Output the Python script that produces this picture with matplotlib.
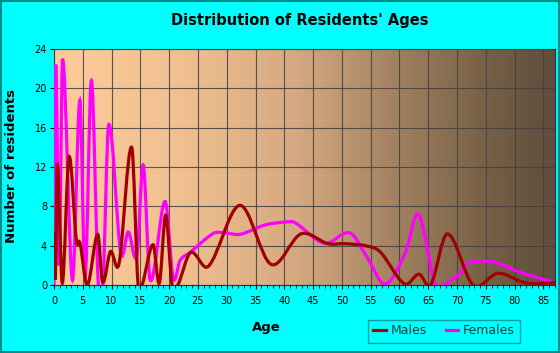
import matplotlib
matplotlib.use("Agg")
import matplotlib.pyplot as plt
from matplotlib.path import Path
from matplotlib.patches import PathPatch, Rectangle
from matplotlib.lines import Line2D
from matplotlib.colors import LinearSegmentedColormap
import numpy as np

# values (age, number of residents)
male_age = [0, 0.25, 0.57, 1.45, 2.6, 3.9, 4.5, 5.8, 7.6, 8.45, 9.8, 11.3, 13.5, 14.6, 15.3,
            17.2, 18.3, 19.4, 20.5, 21.5, 23.7, 26.8, 32.3, 37.7, 42.9, 47.6, 50.5, 54,
            56.6, 60.9, 63.4, 65.4, 68.3, 72.8, 77.1, 82, 87]
male_val = [5.4, 0.7, 12.4, 0.2, 13.0, 4.5, 4.3, 0.0, 5.15, 0.3, 3.4, 2.2, 14.0, 0.0, 0.0,
            4.1, 0.2, 7.1, 0.0, 0.0, 3.3, 1.9, 8.1, 2.1, 5.2, 4.2, 4.2, 4.0,
            3.4, 0.1, 1.1, 0.0, 5.2, 0.0, 1.2, 0.2, 0.2]

female_age = [0, 0.3, 0.9, 1.5, 3.2, 4.5, 5.4, 6.5, 7.7, 8.5, 9.5, 11.6, 12.9, 14.4, 15.5,
              16.7, 19.3, 20.7, 21.9, 23.6, 27.7, 29.7, 32.3, 36.6, 40.1, 41.8, 47.0, 51.4,
              54.3, 57.5, 61, 63.3, 66.1, 67.9, 70.5, 71.9, 74.5, 77.1, 81.2, 86.4]
female_val = [0.0, 22.4, 2.0, 23.0, 0.5, 18.8, 0.7, 20.8, 0.0, 0.0, 16.3, 3.25, 5.4, 3.0, 12.2,
              0.5, 8.5, 0.7, 2.5, 3.3, 5.25, 5.3, 5.15, 6.1, 6.4, 6.35, 4.24, 5.3,
              2.9, 0.1, 3.25, 7.2, 0.3, 0.1, 1.2, 2.2, 2.45, 2.2, 1.25, 0.35]

x_ticks = list(range(0, 90, 5))
y_ticks = list(range(0, 28, 4))


def smooth_path(xs, ys):
    # cubic bezier segments through the points, tangents from neighbours
    xs = np.asarray(xs, float)
    ys = np.asarray(ys, float)
    n = len(xs)
    m = np.zeros(n)
    for i in range(n):
        a = max(i - 1, 0)
        b = min(i + 1, n - 1)
        m[i] = (ys[b] - ys[a]) / (xs[b] - xs[a])
    verts = [(xs[0], ys[0])]
    codes = [Path.MOVETO]
    for i in range(n - 1):
        dx = xs[i + 1] - xs[i]
        verts += [(xs[i] + dx / 3, ys[i] + m[i] * dx / 3),
                  (xs[i + 1] - dx / 3, ys[i + 1] - m[i + 1] * dx / 3),
                  (xs[i + 1], ys[i + 1])]
        codes += [Path.CURVE4] * 3
    return Path(verts, codes)


fig = plt.figure(figsize=(5.6, 3.53), dpi=100, facecolor="#00FFFF")
fig.patches.append(Rectangle((0.002, 0.003), 0.996, 0.994, transform=fig.transFigure,
                             fill=False, edgecolor="#008B8B", linewidth=1.5))
ax = fig.add_axes([0.0964, 0.1926, 0.8946, 0.6686])

# background gradient
grad = LinearSegmentedColormap.from_list("bg", [
    (0.0, "#FECC9A"), (0.25, "#F0C090"), (0.49, "#D4A880"),
    (0.69, "#A08060"), (0.85, "#7A6248"), (1.0, "#5E4E3C")])
ax.imshow(np.linspace(0, 1, 256).reshape(1, -1), cmap=grad, aspect="auto",
          extent=[0, 87, 0, 24], zorder=0)

ax.set_xlim(0, 87)
ax.set_ylim(0, 24)
ax.set_xticks(x_ticks)
ax.set_xticks(range(0, 88), minor=True)
ax.set_yticks(y_ticks)
ax.grid(True, color="#404040", linewidth=0.8, alpha=0.85)
ax.set_axisbelow(False)
ax.tick_params(axis="both", labelsize=7, length=3, width=0.8, pad=2, colors="black")
ax.tick_params(axis="x", pad=5)
ax.tick_params(axis="x", which="minor", length=2, width=0.6)
for s in ax.spines.values():
    s.set_color("#333333")
    s.set_linewidth(0.8)

ax.add_patch(PathPatch(smooth_path(male_age, male_val), fill=False,
                       edgecolor="#A00000", linewidth=2.3, zorder=4, clip_on=True))
ax.add_patch(PathPatch(smooth_path(female_age, female_val), fill=False,
                       edgecolor="#FF00FF", linewidth=2.3, zorder=3, clip_on=True))

fig.text(0.536, 0.943, "Distribution of Residents' Ages", ha="center", va="center",
         fontsize=10.5, fontweight="bold")
fig.text(266 / 560, 1 - 327 / 353, "Age", ha="center", va="center",
         fontsize=9.5, fontweight="bold")
fig.text(12 / 560, 1 - 166 / 353, "Number of residents", ha="center", va="center",
         rotation=90, fontsize=9.5, fontweight="bold")

handles = [Line2D([], [], color="#A00000", linewidth=2.3),
           Line2D([], [], color="#FF00FF", linewidth=2.3)]
leg = fig.legend(handles, ["Males", "Females"], loc="center",
                 bbox_to_anchor=(444 / 560, 1 - 331 / 353), ncol=2, fontsize=9,
                 frameon=True, fancybox=False, handlelength=1.0, handletextpad=0.4,
                 columnspacing=1.5, borderpad=0.4)
leg.get_frame().set_facecolor("#00FFFF")
leg.get_frame().set_edgecolor("#008B8B")
leg.get_frame().set_linewidth(1.0)
for t in leg.get_texts():
    t.set_color("#004040")

fig.savefig("out.png", dpi=100, facecolor=fig.get_facecolor())
